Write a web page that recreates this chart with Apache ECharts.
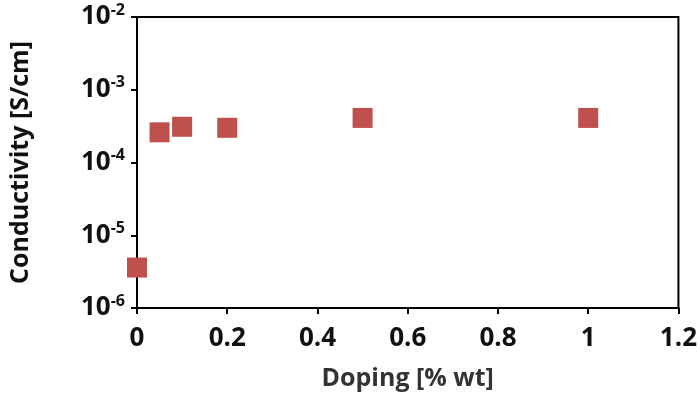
<!DOCTYPE html>
<html><head><meta charset="utf-8">
<script src="https://cdn.jsdelivr.net/npm/echarts@6/dist/echarts.min.js"></script>
<style>html,body{margin:0;padding:0;background:#fff}#c{width:700px;height:403px}</style>
</head><body><div id="c"></div>
<script>
const doping = [0, 0.05, 0.1, 0.2, 0.5, 1]
const conductivity = [3.6e-6, 2.6e-4, 3.1e-4, 3.0e-4, 4.1e-4, 4.1e-4]

const chart = echarts.init(document.getElementById('c'))
const font = 'Open Sans'
chart.setOption({
  animation: false,
  grid: { left: 130, right: 18, top: 17, bottom: 95, show: true, borderColor: '#000', borderWidth: 2 },
  xAxis: {
    type: 'value', min: 0, max: 1.2, interval: 0.2,
    name: 'Doping [% wt]', nameLocation: 'middle', nameGap: 58,
    nameTextStyle: { fontFamily: font, fontWeight: 'bold', fontSize: 25, color: '#333' },
    axisLine: { onZero: false, lineStyle: { color: '#000', width: 2 } },
    axisTick: { show: true, length: 6, lineStyle: { color: '#000', width: 2 } },
    splitLine: { show: false },
    axisLabel: { fontFamily: font, fontWeight: 'bold', fontSize: 26, color: '#111', margin: 18 }
  },
  yAxis: {
    type: 'log', min: 1e-6, max: 1e-2, logBase: 10,
    name: 'Conductivity [S/cm]', nameLocation: 'middle', nameGap: 104,
    nameTextStyle: { fontFamily: font, fontWeight: 'bold', fontSize: 25, color: '#111' },
    axisLine: { show: true, lineStyle: { color: '#000', width: 2 } },
    axisTick: { show: true, length: 6, lineStyle: { color: '#000', width: 2 } },
    splitLine: { show: false },
    axisLabel: {
      fontFamily: font, fontWeight: 'bold', fontSize: 26, color: '#111', margin: 12,
      formatter: v => '10{s|' + Math.round(Math.log10(v)) + '}',
      rich: { s: { fontFamily: font, fontWeight: 'bold', fontSize: 16, verticalAlign: 'top', padding: [0, 0, 14, 0], color: '#111' } }
    }
  },
  series: [{
    type: 'scatter', symbol: 'rect', symbolSize: 20,
    itemStyle: { color: '#c0504d', opacity: 1 },
    data: doping.map((d, i) => [d, conductivity[i]])
  }]
})
</script></body></html>
